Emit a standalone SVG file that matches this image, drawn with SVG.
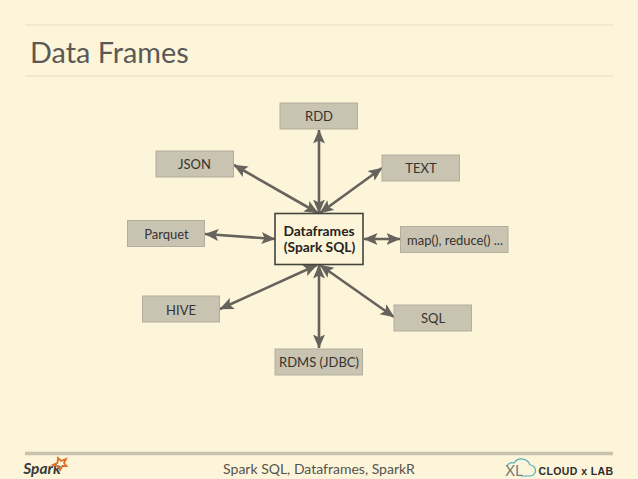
<svg xmlns="http://www.w3.org/2000/svg" width="638" height="479" viewBox="0 0 638 479">
<style>
text{font-family:Lato,"Open Sans","Liberation Sans",sans-serif;text-anchor:middle}
.box{fill:#c9c3b2;stroke:#b3ad9d;stroke-width:1}
.lbl{font-size:13px;fill:#35332f}
.main{fill:#fdf5da;stroke:#45433d;stroke-width:1.600}
.mainl{font-size:13.800px;font-weight:700;fill:#26241f}
.conn line{stroke:#66625c;stroke-width:2.600;marker-start:url(#ah);marker-end:url(#ah)}
.rule{stroke:#e6dcc0;stroke-width:1}
</style>
<defs>
<marker id="ah" markerUnits="userSpaceOnUse" markerWidth="16" markerHeight="13" refX="13.500" refY="6" orient="auto-start-reverse" viewBox="0 0 16 12">
<path d="M0 0 L14 6 L0 12 L3 6 Z" fill="#66625c"/>
</marker>
</defs>
<rect width="638" height="479" fill="#fdf5da"/>
<g id="title">
<line class="rule" x1="25" y1="25" x2="613" y2="25"/>
<line class="rule" x1="25" y1="76" x2="613" y2="76"/>
<text x="30" y="63" font-size="28.800" style="text-anchor:start" fill="#5a5955">Data Frames</text>
</g>
<g class="conn" id="connectors">
<line x1="319" y1="130" x2="319" y2="213"/>
<line x1="234" y1="165" x2="318" y2="213"/>
<line x1="382" y1="168" x2="320" y2="213"/>
<line x1="205" y1="234" x2="275" y2="239"/>
<line x1="364" y1="239" x2="400" y2="239"/>
<line x1="220" y1="309" x2="317" y2="265"/>
<line x1="319" y1="265" x2="319" y2="348"/>
<line x1="394" y1="317" x2="320" y2="265"/>
</g>
<g id="rdd"><rect class="box" x="280" y="103" width="77.500" height="26"/><text class="lbl" x="319" y="121">RDD</text></g>
<g id="json"><rect class="box" x="156" y="151" width="77.500" height="26"/><text class="lbl" x="194.500" y="169">JSON</text></g>
<g id="text"><rect class="box" x="382" y="155" width="77.500" height="26"/><text class="lbl" x="421" y="173">TEXT</text></g>
<g id="parquet"><rect class="box" x="127.500" y="220.500" width="77" height="26"/><text class="lbl" x="166.500" y="239">Parquet</text></g>
<g id="dataframes"><rect class="main" x="275" y="213.500" width="88" height="51"/><text class="mainl" x="319" y="236">Dataframes</text><text class="mainl" x="319.500" y="252">(Spark SQL)</text></g>
<g id="map"><rect class="box" x="400.500" y="226.500" width="107.500" height="26"/><text class="lbl" x="455" y="245">map(), reduce() ...</text></g>
<g id="hive"><rect class="box" x="142.500" y="296" width="77" height="26"/><text class="lbl" x="181" y="315">HIVE</text></g>
<g id="sql"><rect class="box" x="394" y="305" width="77.500" height="26"/><text class="lbl" x="433" y="323">SQL</text></g>
<g id="rdms"><rect class="box" x="275" y="349" width="87.500" height="26"/><text class="lbl" x="319" y="367">RDMS (JDBC)</text></g>
<g id="footer">
<line x1="25" y1="453.500" x2="613" y2="453.500" stroke="#c9c3ad" stroke-width="3.500"/>
<text x="319" y="474" font-size="14" fill="#55534e">Spark SQL, Dataframes, SparkR</text>
<text x="42" y="474" font-size="15.500" font-weight="700" font-style="italic" fill="#3a3a3a">Spark</text>
<path d="M58 458 L61 461 L66 459 L64 463 L66.500 466 L62.500 466 L60 470 L58.500 466 L53 465 L57.500 463 Z" fill="none" stroke="#e0702a" stroke-width="1.800"/>
<path d="M507 466 A6 6 0 0 1 514 463 A9 9 0 0 1 530 465 A5.500 5.500 0 0 1 530 476 H521" fill="none" stroke="#4fb0bb" stroke-width="1.200"/>
<text x="514" y="476" font-size="15" fill="#75807d">XL</text>
<text x="576" y="475" font-size="10.500" font-weight="700" fill="#2c2c2c" style="font-family:'Liberation Sans',sans-serif;letter-spacing:.4px">CLOUD x LAB</text>
</g>
</svg>
